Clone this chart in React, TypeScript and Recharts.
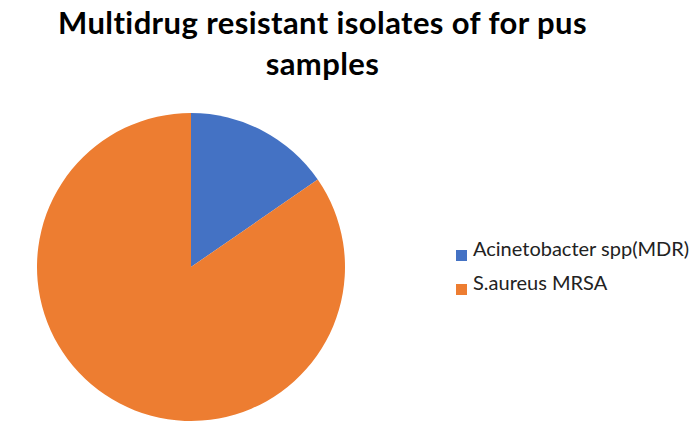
import React from "react";
import { PieChart, Pie, Cell, Legend } from "recharts";

const categories = ["Acinetobacter spp(MDR)", "S.aureus MRSA"];
const values = [2, 11];
const colors = ["#4472C4", "#ED7D31"];
const titleLines = ["Multidrug resistant isolates of for pus", "samples"];

const data = categories.map((name, i) => ({ name, value: values[i] }));

const LegendContent = () => (
  <div style={{ position: "relative", fontFamily: "Lato, 'Open Sans', sans-serif", fontSize: 20, color: "#222", height: 70 }}>
    {data.map((d, i) => (
      <div key={d.name} style={{ position: "absolute", left: 0, top: 34 * i, height: 34, width: 240 }}>
        <span style={{ position: "absolute", left: 0, top: 12, width: 11, height: 11, background: colors[i] }} />
        <span style={{ position: "absolute", left: 17, top: 0, lineHeight: "20px", whiteSpace: "nowrap" }}>{d.name}</span>
      </div>
    ))}
  </div>
);

export default function App() {
  return (
    <div style={{ position: "absolute", left: 0, top: 0, width: 696, height: 424, background: "#fff" }}>
      <div
        style={{
          position: "absolute",
          left: 0,
          top: 2,
          width: 645,
          textAlign: "center",
          fontFamily: "Lato, 'Open Sans', sans-serif",
          fontWeight: 700,
          fontSize: 31,
          letterSpacing: 0.4,
          fontVariantLigatures: "none",
          lineHeight: "41px",
          color: "#000",
        }}
      >
        {titleLines.map((l) => (
          <div key={l}>{l}</div>
        ))}
      </div>
      <PieChart width={696} height={424} margin={{ top: 0, right: 0, bottom: 0, left: 0 }} style={{ position: "absolute", left: 0, top: 0 }}>
        <Pie
          data={data}
          dataKey="value"
          nameKey="name"
          cx={191}
          cy={267}
          outerRadius={154}
          startAngle={90}
          endAngle={-270}
          stroke="none"
          isAnimationActive={false}
        >
          {data.map((d, i) => (
            <Cell key={d.name} fill={colors[i]} />
          ))}
        </Pie>
        <Legend
          content={<LegendContent />}
          wrapperStyle={{ position: "absolute", left: 456, top: 238, width: 240 }}
        />
      </PieChart>
    </div>
  );
}
